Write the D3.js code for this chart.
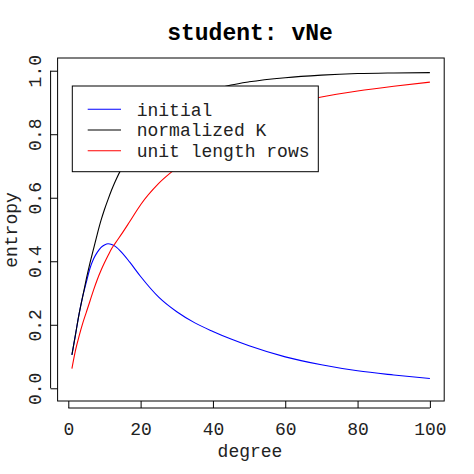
<!DOCTYPE html>
<html>
<head>
<meta charset="utf-8">
<script src="https://cdn.jsdelivr.net/npm/d3@7"></script>
<style>
    body { margin: 0; background: #fff; }
    svg text { font-family: "Liberation Mono", "Courier New", monospace; fill: #222; }
</style>
</head>
<body>
<svg id="chart" width="474" height="474"></svg>
<script>
// degree values sampled along the curves
let degrees = [1, 2, 3, 4, 5, 6, 7, 8, 9, 10, 11, 12, 13, 15, 17, 20, 25, 30, 35, 40, 45, 50, 60, 70, 80, 90, 100];

let initial = [0.105, 0.17, 0.235, 0.29, 0.335, 0.378, 0.408, 0.428, 0.443, 0.451, 0.455, 0.453, 0.447, 0.425, 0.397,
    0.352, 0.287, 0.241, 0.206, 0.179, 0.155, 0.134, 0.099, 0.074, 0.055, 0.042, 0.031];
let normalizedK = [0.105, 0.17, 0.235, 0.29, 0.345, 0.395, 0.44, 0.485, 0.527, 0.563, 0.595, 0.625, 0.652, 0.698, 0.737,
    0.785, 0.845, 0.888, 0.918, 0.94, 0.955, 0.965, 0.978, 0.986, 0.991, 0.993, 0.994];
let unitRows = [0.062, 0.12, 0.165, 0.205, 0.24, 0.275, 0.31, 0.342, 0.37, 0.395, 0.418, 0.44, 0.457, 0.49, 0.525,
    0.578, 0.645, 0.695, 0.745, 0.787, 0.822, 0.85, 0.89, 0.917, 0.936, 0.951, 0.964];

let seriesNames = ["initial", "normalized K", "unit length rows"];
let seriesColors = ["blue", "black", "red"];
let seriesValues = [initial, normalizedK, unitRows];

let xTicks = [0, 20, 40, 60, 80, 100];
let yTicks = [0.0, 0.2, 0.4, 0.6, 0.8, 1.0];

let svg = d3.select("#chart");
let box = {left: 57.6, right: 444.2, top: 58, bottom: 401};

// R style 4% padding around the data range
let x = d3.scaleLinear().domain([1 - 0.04 * 99, 100 + 0.04 * 99]).range([box.left, box.right]);
let y = d3.scaleLinear().domain([-0.04, 1.04]).range([box.bottom, box.top]);

// title
svg.append("text")
    .attr("x", 250).attr("y", 40)
    .attr("text-anchor", "middle")
    .style("font-size", "23px").style("font-weight", "bold")
    .style("fill", "#000")
    .text("student: vNe");

// curves
let line = d3.line()
    .x(d => x(d[0]))
    .y(d => y(d[1]))
    .curve(d3.curveMonotoneX);

seriesValues.forEach(function (vals, i) {
    svg.append("path")
        .datum(degrees.map((d, j) => [d, vals[j]]))
        .attr("d", line)
        .attr("fill", "none")
        .attr("stroke", seriesColors[i])
        .attr("stroke-width", 1.1);
});

// plot frame
svg.append("rect")
    .attr("x", box.left).attr("y", box.top)
    .attr("width", box.right - box.left).attr("height", box.bottom - box.top)
    .attr("fill", "none").attr("stroke", "#000").attr("stroke-width", 1);

// x axis
let xAxis = svg.append("g")
    .attr("transform", "translate(0," + (box.bottom + 7) + ")")
    .call(d3.axisBottom(x).tickValues(xTicks).tickSize(7).tickSizeOuter(0).tickPadding(4));
xAxis.select(".domain").attr("d", "M" + x(0) + ",0H" + x(100));
xAxis.selectAll(".tick line").attr("y1", -7).attr("y2", 0);
xAxis.selectAll("text").style("font-size", "18px").attr("dy", "0.9em");

// y axis, labels rotated like R's default
let yAxis = svg.append("g")
    .attr("transform", "translate(" + (box.left - 7) + ",0)")
    .call(d3.axisLeft(y).tickValues(yTicks).tickFormat(d3.format(".1f")).tickSize(7).tickSizeOuter(0));
yAxis.select(".domain").attr("d", "M0," + y(0) + "V" + y(1));
yAxis.selectAll(".tick line").attr("x1", 0).attr("x2", 7);
yAxis.selectAll(".tick text")
    .attr("x", 0).attr("dy", 0)
    .attr("transform", "translate(-10,0) rotate(-90)")
    .attr("text-anchor", "middle")
    .style("font-size", "18px");

// axis titles
svg.append("text")
    .attr("x", 250).attr("y", 457)
    .attr("text-anchor", "middle")
    .style("font-size", "18px")
    .text("degree");
svg.append("text")
    .attr("transform", "translate(17,230) rotate(-90)")
    .attr("text-anchor", "middle")
    .style("font-size", "18px")
    .text("entropy");

// legend
let legend = svg.append("g");
legend.append("rect")
    .attr("x", 72.3).attr("y", 86)
    .attr("width", 246).attr("height", 85.7)
    .attr("fill", "#fff").attr("stroke", "#000").attr("stroke-width", 1);
seriesNames.forEach(function (name, i) {
    let cy = 109.3 + i * 20.7;
    legend.append("line")
        .attr("x1", 87.7).attr("x2", 121)
        .attr("y1", cy).attr("y2", cy)
        .attr("stroke", seriesColors[i]).attr("stroke-width", 1.1);
    legend.append("text")
        .attr("x", 136.7).attr("y", cy)
        .attr("dy", "0.35em")
        .style("font-size", "18px")
        .text(name);
});
</script>
</body>
</html>
